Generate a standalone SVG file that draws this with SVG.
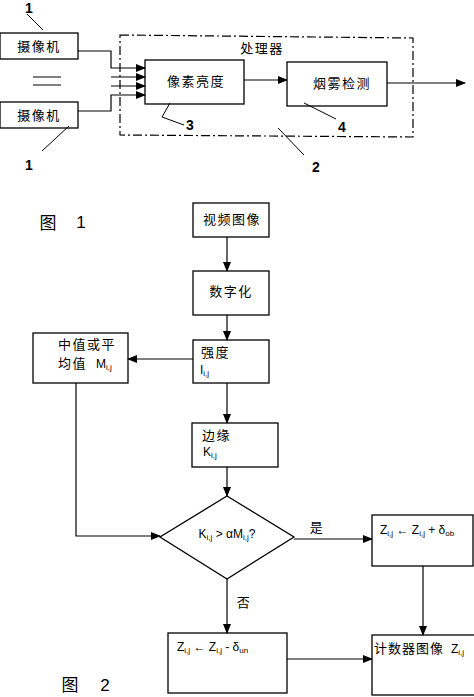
<svg xmlns="http://www.w3.org/2000/svg" width="474" height="697" viewBox="0 0 474 697">
<style>
.box{fill:#fff;stroke:#000;stroke-width:1.3}
.ln{fill:none;stroke:#000;stroke-width:1.2}
.thin{fill:none;stroke:#000;stroke-width:1}
.dd{fill:none;stroke:#000;stroke-width:1.2;stroke-dasharray:9 3 2 3}
.cn{font-family:"Noto Sans CJK SC","Noto Sans CJK JP",sans-serif;font-size:13px;fill:#000;letter-spacing:1.5px}
.lt{font-family:"Liberation Sans",Arial,sans-serif;font-size:12px;fill:#000}
.num{font-family:"Liberation Sans",Arial,sans-serif;font-size:14px;font-weight:bold;fill:#000}
.fig{font-family:"Noto Sans CJK SC",sans-serif;font-size:17px;fill:#000}
.sub{font-size:8px}
</style>
<defs>
<marker id="ah" markerWidth="10" markerHeight="8" refX="9" refY="4" orient="auto" markerUnits="userSpaceOnUse">
<path d="M0,0 L10,4 L0,8 Z" fill="#000"/>
</marker>
</defs>
<rect width="474" height="697" fill="#fff"/>

<!-- Figure 1 -->
<g id="processor">
<path class="dd" d="M120,35 L413,38 L413,137 L120,135 Z"/>
<text class="cn" x="262" y="53" text-anchor="middle">处理器</text>
</g>
<g id="camera1">
<rect class="box" x="0" y="33" width="78" height="26"/>
<text class="cn" x="39" y="51" text-anchor="middle">摄像机</text>
</g>
<g id="camera2">
<rect class="box" x="0" y="102" width="78" height="26"/>
<text class="cn" x="39" y="120" text-anchor="middle">摄像机</text>
</g>
<g id="equals">
<line class="thin" x1="33" y1="77" x2="61" y2="77"/>
<line class="thin" x1="33" y1="85" x2="61" y2="85"/>
</g>
<g id="pixel">
<rect class="box" x="145" y="60" width="99" height="44"/>
<text class="cn" x="196" y="86" text-anchor="middle">像素亮度</text>
</g>
<g id="smoke">
<rect class="box" x="287" y="62" width="100" height="44"/>
<text class="cn" x="342" y="88" text-anchor="middle">烟雾检测</text>
</g>
<g id="labels1">
<text class="num" x="29" y="13" text-anchor="middle">1</text>
<line class="thin" x1="27" y1="14" x2="43" y2="30"/>
<text class="num" x="29" y="170" text-anchor="middle">1</text>
<line class="thin" x1="42" y1="151" x2="69" y2="126"/>
<path class="thin" d="M170,103 L162,117 L184,125"/>
<text class="num" x="190" y="130" text-anchor="middle">3</text>
<line class="thin" x1="304" y1="103" x2="336" y2="119"/>
<text class="num" x="342" y="132" text-anchor="middle">4</text>
<line class="thin" x1="278" y1="128" x2="304" y2="155"/>
<text class="num" x="316" y="172" text-anchor="middle">2</text>
<text class="fig" x="48" y="229" text-anchor="middle">图</text>
<text class="fig" x="81" y="228" text-anchor="middle" style="font-family:'Liberation Sans',sans-serif">1</text>
</g>

<!-- Figure 2 -->
<g id="video">
<rect class="box" x="193" y="203" width="76" height="34"/>
<text class="cn" x="232" y="224" text-anchor="middle">视频图像</text>
</g>
<g id="digitize">
<rect class="box" x="193" y="271" width="76" height="44"/>
<text class="cn" x="231" y="296" text-anchor="middle">数字化</text>
</g>
<g id="intensity">
<rect class="box" x="193" y="340" width="76" height="43"/>
<text class="cn" x="201" y="357">强度</text>
<text class="lt" x="200" y="374">I<tspan class="sub" dy="2">i,j</tspan></text>
</g>
<g id="median">
<rect class="box" x="33" y="333" width="95" height="50"/>
<text class="cn" x="58" y="349">中值或平</text>
<text class="cn" x="58" y="368">均值</text>
<text class="lt" x="96" y="368">M<tspan class="sub" dy="2">i,j</tspan></text>
</g>
<g id="edge">
<rect class="box" x="192" y="423" width="86" height="44"/>
<text class="cn" x="202" y="440">边缘</text>
<text class="lt" x="203" y="456">K<tspan class="sub" dy="2">i,j</tspan></text>
</g>
<g id="decision">
<path class="box" d="M227,496 L294,537 L227,579 L160,537 Z"/>
<text class="lt" x="227" y="538" text-anchor="middle">K<tspan class="sub" dy="2">i,j</tspan><tspan dy="-2"> &gt; αM</tspan><tspan class="sub" dy="2">i,j</tspan><tspan dy="-2">?</tspan></text>
</g>
<g id="increment">
<rect class="box" x="372" y="515" width="101" height="51"/>
<text class="lt" x="380" y="534">Z<tspan class="sub" dy="2">i,j</tspan><tspan dy="-2"> ← Z</tspan><tspan class="sub" dy="2">i,j</tspan><tspan dy="-2"> + δ</tspan><tspan class="sub" dy="2">ob</tspan></text>
</g>
<g id="decrement">
<rect class="box" x="168" y="633" width="119" height="60"/>
<text class="lt" x="177" y="651">Z<tspan class="sub" dy="2">i,j</tspan><tspan dy="-2"> ← Z</tspan><tspan class="sub" dy="2">i,j</tspan><tspan dy="-2"> - δ</tspan><tspan class="sub" dy="2">un</tspan></text>
</g>
<g id="counter">
<rect class="box" x="372" y="635" width="104" height="60"/>
<text class="cn" x="374" y="653" style="letter-spacing:1px">计数器图像</text>
<text class="lt" x="451" y="653">Z<tspan class="sub" dy="2">i,j</tspan></text>
</g>
<g id="labels2">
<text class="cn" x="317" y="532" text-anchor="middle">是</text>
<text class="cn" x="244" y="607" text-anchor="middle">否</text>
<text class="fig" x="70" y="691" text-anchor="middle">图</text>
<text class="fig" x="105" y="691" text-anchor="middle" style="font-family:'Liberation Sans',sans-serif">2</text>
</g>

<g id="connectors">
<path class="ln" d="M78,51 L111,51 L111,68 L145,68" marker-end="url(#ah)"/>
<path class="ln" d="M111,77 L145,77" marker-end="url(#ah)"/>
<path class="ln" d="M111,86 L145,86" marker-end="url(#ah)"/>
<path class="ln" d="M78,111 L111,111 L111,95 L145,95" marker-end="url(#ah)"/>
<path class="ln" d="M244,80 L287,80" marker-end="url(#ah)"/>
<path class="ln" d="M387,83 L465,83" marker-end="url(#ah)"/>
<path class="ln" d="M227,237 L227,271" marker-end="url(#ah)"/>
<path class="ln" d="M227,315 L227,340" marker-end="url(#ah)"/>
<path class="ln" d="M193,359 L128,359" marker-end="url(#ah)"/>
<path class="ln" d="M227,383 L227,423" marker-end="url(#ah)"/>
<path class="ln" d="M227,467 L227,496" marker-end="url(#ah)"/>
<path class="ln" d="M76,383 L76,536 L160,536" marker-end="url(#ah)"/>
<path class="ln" d="M294,539 L372,539" marker-end="url(#ah)"/>
<path class="ln" d="M423,566 L423,635" marker-end="url(#ah)"/>
<path class="ln" d="M227,579 L227,633" marker-end="url(#ah)"/>
<path class="ln" d="M287,659 L372,659" marker-end="url(#ah)"/>
</g>
</svg>
